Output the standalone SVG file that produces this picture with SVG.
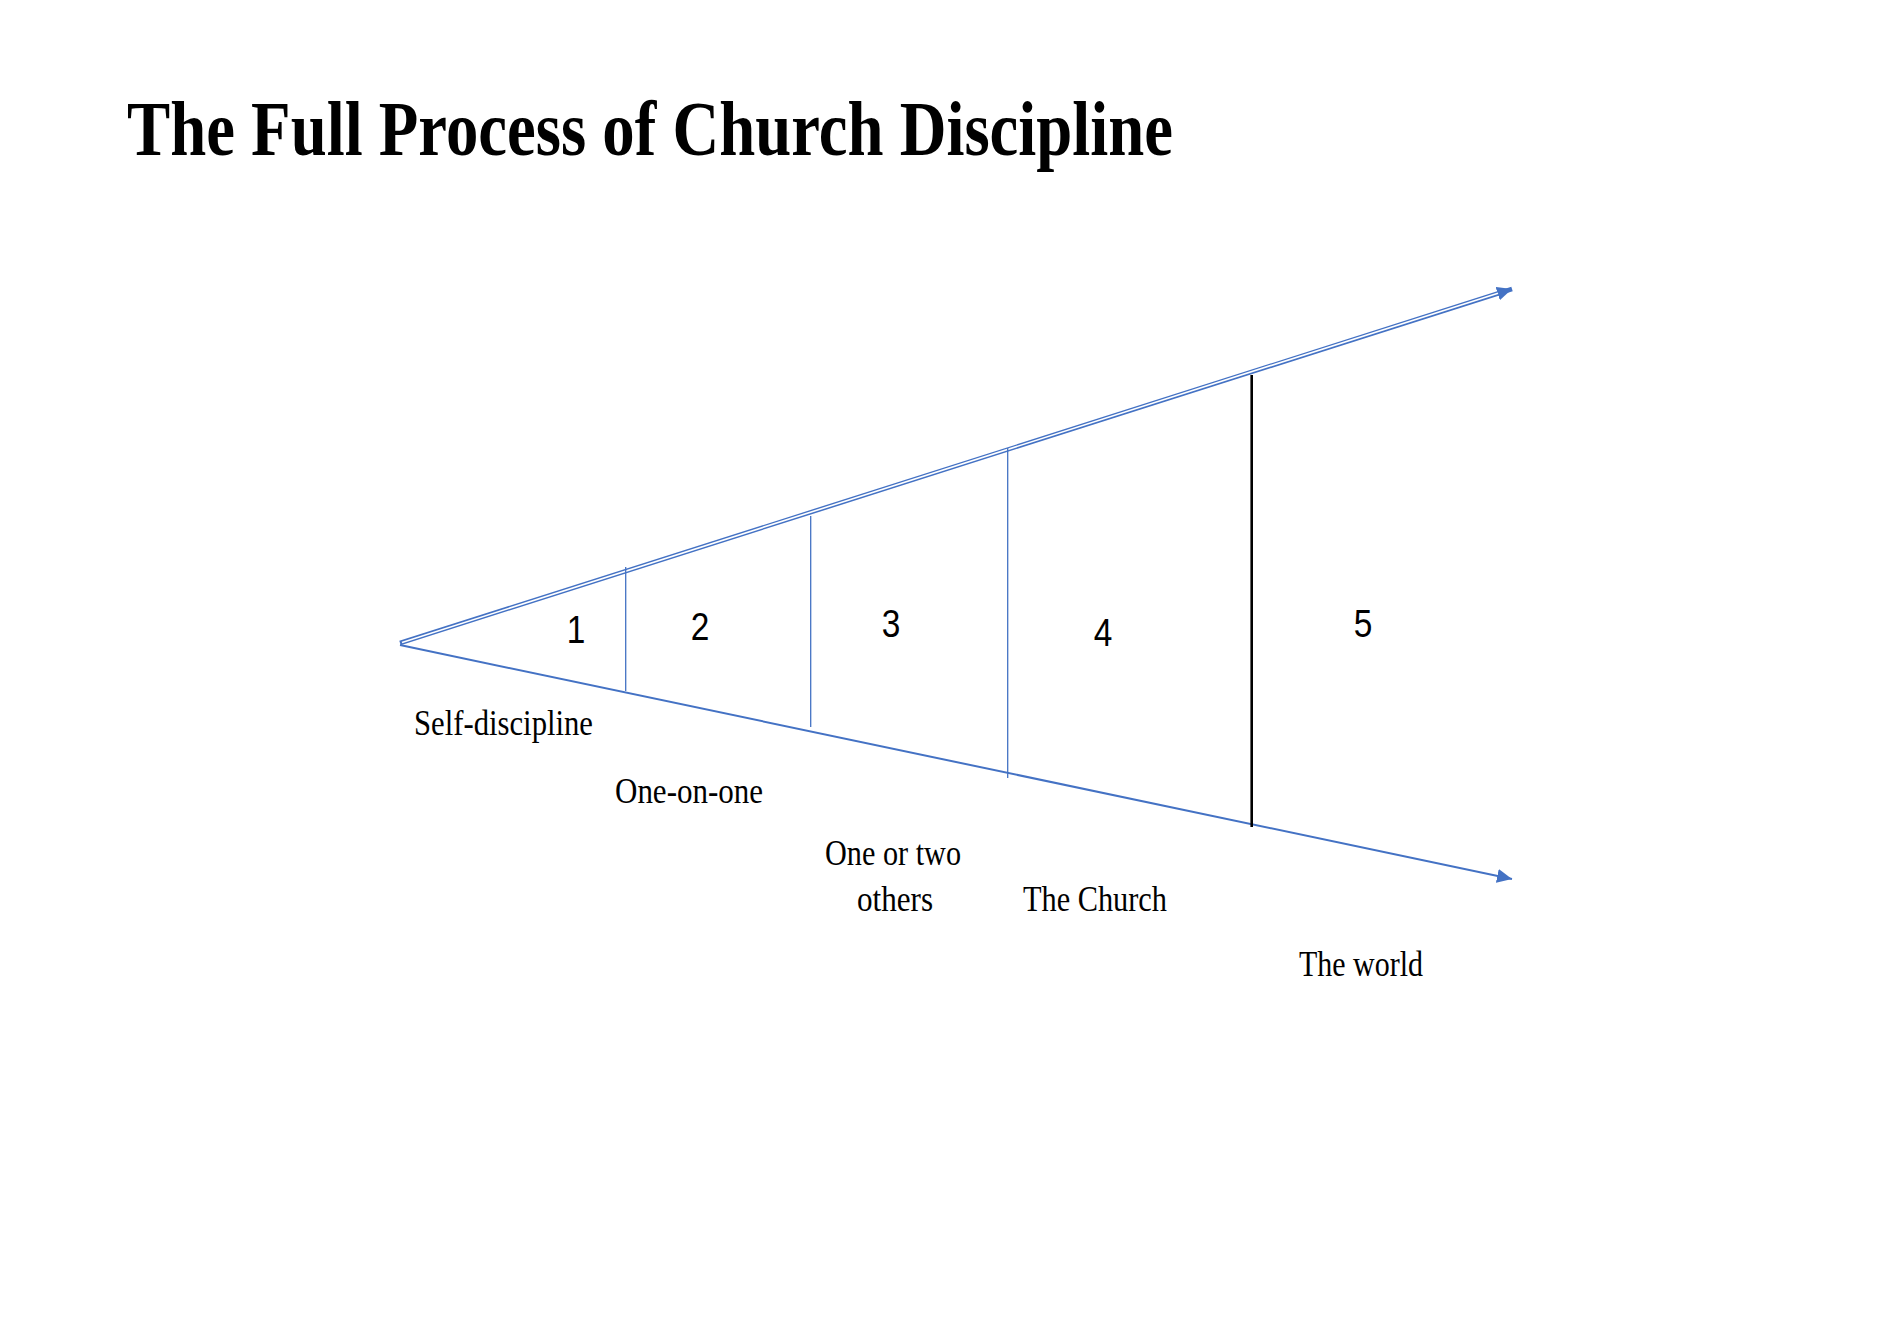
<svg xmlns="http://www.w3.org/2000/svg" width="1883" height="1320" viewBox="0 0 1883 1320">
<style>
.title{font-family:"Liberation Serif","Times New Roman",serif;font-weight:bold;font-size:79px;fill:#000}
.lbl{font-family:"Liberation Serif","Times New Roman",serif;font-size:35px;fill:#000}
.num{font-family:"Liberation Sans",Arial,sans-serif;font-size:38px;fill:#000;text-anchor:middle}
.blue{stroke:#4472C4;fill:none}
.div{stroke:#4472C4;stroke-width:1.3}
</style>
<defs>
<marker id="arr" markerUnits="userSpaceOnUse" markerWidth="16" markerHeight="14" refX="15" refY="7" orient="auto">
<path d="M0,0 L15,7 L0,14 z" fill="#4472C4"/>
</marker>
</defs>
<rect width="1883" height="1320" fill="#fff"/>
<text class="title" x="127" y="155" textLength="1046" lengthAdjust="spacingAndGlyphs">The Full Process of Church Discipline</text>
<g id="connectors">
<line class="blue" x1="400" y1="643" x2="1512" y2="289" stroke-width="4.5" marker-end="url(#arr)"/>
<line x1="402" y1="642.4" x2="1498" y2="293.2" stroke="#fff" stroke-width="1.6"/>
<line class="blue" x1="400" y1="645" x2="1512" y2="879" stroke-width="2" marker-end="url(#arr)"/>
<line class="div" x1="625.7" y1="567" x2="625.7" y2="691"/>
<line class="div" x1="810.7" y1="516" x2="810.7" y2="727"/>
<line class="div" x1="1007.7" y1="448" x2="1007.7" y2="778"/>
<line x1="1251.7" y1="375" x2="1251.7" y2="827" stroke="#000" stroke-width="2.6"/>
</g>
<g id="stage1">
<text class="num" x="576" y="643" transform="translate(576 0) scale(0.88 1) translate(-576 0)">1</text>
<text class="lbl" x="414" y="735" textLength="179" lengthAdjust="spacingAndGlyphs">Self-discipline</text>
</g>
<g id="stage2">
<text class="num" x="700" y="640" transform="translate(700 0) scale(0.88 1) translate(-700 0)">2</text>
<text class="lbl" x="615" y="803" textLength="148" lengthAdjust="spacingAndGlyphs">One-on-one</text>
</g>
<g id="stage3">
<text class="num" x="891" y="637" transform="translate(891 0) scale(0.88 1) translate(-891 0)">3</text>
<text class="lbl" x="825" y="865" textLength="136" lengthAdjust="spacingAndGlyphs">One or two</text>
<text class="lbl" x="857" y="911" textLength="76" lengthAdjust="spacingAndGlyphs">others</text>
</g>
<g id="stage4">
<text class="num" x="1103" y="646" transform="translate(1103 0) scale(0.88 1) translate(-1103 0)">4</text>
<text class="lbl" x="1023" y="911" textLength="144" lengthAdjust="spacingAndGlyphs">The Church</text>
</g>
<g id="stage5">
<text class="num" x="1363" y="637" transform="translate(1363 0) scale(0.88 1) translate(-1363 0)">5</text>
<text class="lbl" x="1299" y="976" style="font-size:36px" textLength="124" lengthAdjust="spacingAndGlyphs">The world</text>
</g>
</svg>
